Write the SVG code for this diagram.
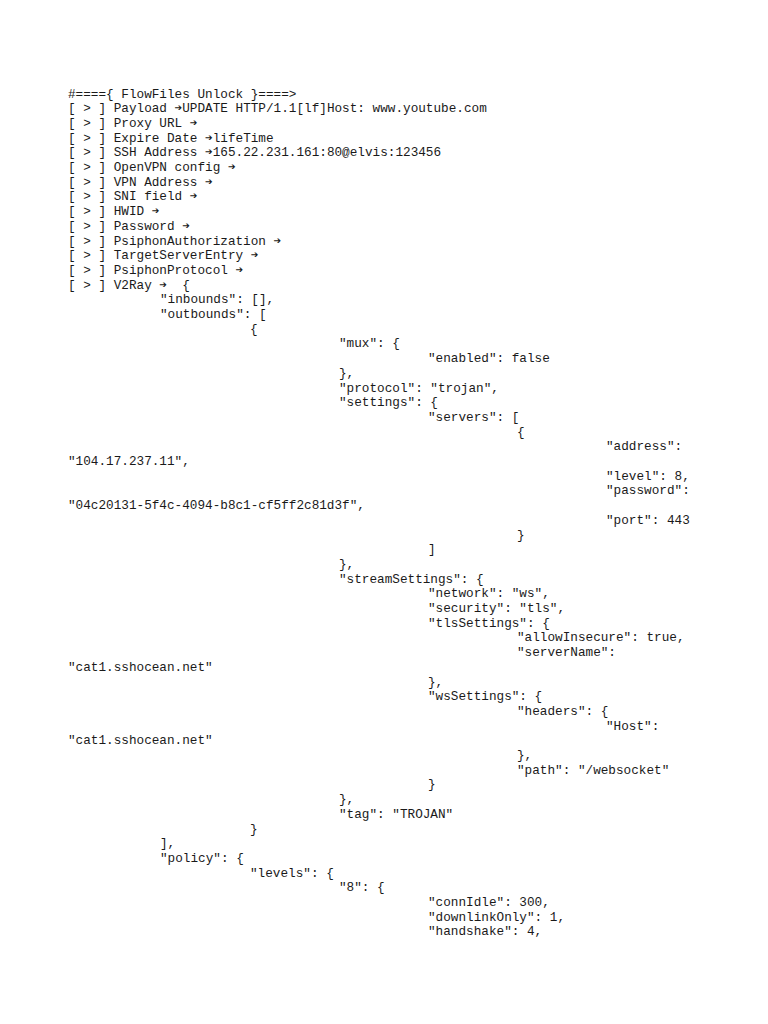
<svg xmlns="http://www.w3.org/2000/svg" width="768" height="1024" viewBox="0 0 768 1024">
<style>
text{font-family:"Liberation Mono","DejaVu Sans Mono",monospace;font-size:12.7px;fill:#1a1a1a;white-space:pre}
</style>
<rect width="768" height="1024" fill="#fff"/>
<g id="doc" xml:space="preserve">
<text x="68" y="97.5">#===={ FlowFiles Unlock }====&gt;</text>
<text x="68" y="112.2">[ &gt; ] Payload ➔UPDATE HTTP/1.1[lf]Host: www.youtube.com</text>
<text x="68" y="126.9">[ &gt; ] Proxy URL ➔</text>
<text x="68" y="141.6">[ &gt; ] Expire Date ➔lifeTime</text>
<text x="68" y="156.3">[ &gt; ] SSH Address ➔165.22.231.161:80@elvis:123456</text>
<text x="68" y="171">[ &gt; ] OpenVPN config ➔</text>
<text x="68" y="185.7">[ &gt; ] VPN Address ➔</text>
<text x="68" y="200.4">[ &gt; ] SNI field ➔</text>
<text x="68" y="215.1">[ &gt; ] HWID ➔</text>
<text x="68" y="229.8">[ &gt; ] Password ➔</text>
<text x="68" y="244.5">[ &gt; ] PsiphonAuthorization ➔</text>
<text x="68" y="259.2">[ &gt; ] TargetServerEntry ➔</text>
<text x="68" y="273.9">[ &gt; ] PsiphonProtocol ➔</text>
<text x="68" y="288.6">[ &gt; ] V2Ray ➔  {</text>
<text x="160" y="303.3">"inbounds": [],</text>
<text x="160" y="318">"outbounds": [</text>
<text x="250" y="332.7">{</text>
<text x="339" y="347.4">"mux": {</text>
<text x="428" y="362.1">"enabled": false</text>
<text x="339" y="376.8">},</text>
<text x="339" y="391.5">"protocol": "trojan",</text>
<text x="339" y="406.2">"settings": {</text>
<text x="428" y="420.9">"servers": [</text>
<text x="517" y="435.6">{</text>
<text x="606" y="450.3">"address":</text>
<text x="68" y="465">"104.17.237.11",</text>
<text x="606" y="479.7">"level": 8,</text>
<text x="606" y="494.4">"password":</text>
<text x="68" y="509.1">"04c20131-5f4c-4094-b8c1-cf5ff2c81d3f",</text>
<text x="606" y="523.8">"port": 443</text>
<text x="517" y="538.5">}</text>
<text x="428" y="553.2">]</text>
<text x="339" y="567.9">},</text>
<text x="339" y="582.6">"streamSettings": {</text>
<text x="428" y="597.3">"network": "ws",</text>
<text x="428" y="612">"security": "tls",</text>
<text x="428" y="626.7">"tlsSettings": {</text>
<text x="517" y="641.4">"allowInsecure": true,</text>
<text x="517" y="656.1">"serverName":</text>
<text x="68" y="670.8">"cat1.sshocean.net"</text>
<text x="428" y="685.5">},</text>
<text x="428" y="700.2">"wsSettings": {</text>
<text x="517" y="714.9">"headers": {</text>
<text x="606" y="729.6">"Host":</text>
<text x="68" y="744.3">"cat1.sshocean.net"</text>
<text x="517" y="759">},</text>
<text x="517" y="773.7">"path": "/websocket"</text>
<text x="428" y="788.4">}</text>
<text x="339" y="803.1">},</text>
<text x="339" y="817.8">"tag": "TROJAN"</text>
<text x="250" y="832.5">}</text>
<text x="160" y="847.2">],</text>
<text x="160" y="861.9">"policy": {</text>
<text x="250" y="876.6">"levels": {</text>
<text x="339" y="891.3">"8": {</text>
<text x="428" y="906">"connIdle": 300,</text>
<text x="428" y="920.7">"downlinkOnly": 1,</text>
<text x="428" y="935.4">"handshake": 4,</text>
</g>
</svg>
